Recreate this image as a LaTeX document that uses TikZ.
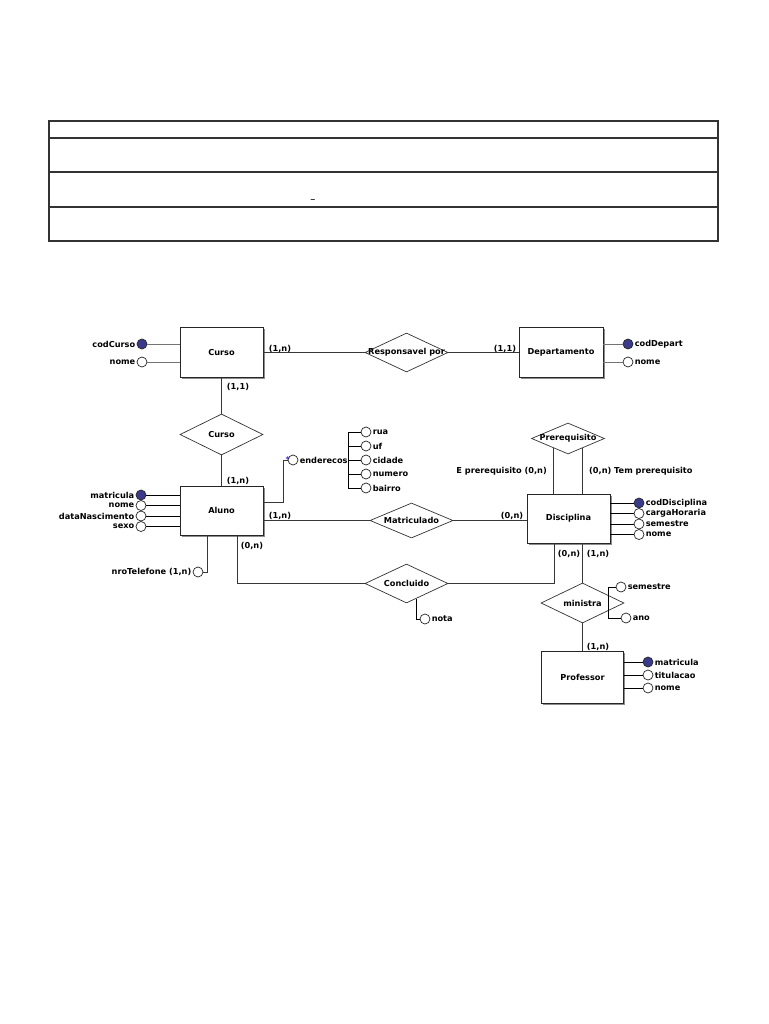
\documentclass[tikz,border=0pt]{standalone}
\usepackage{fontspec}
\setmainfont{DejaVu Sans}
\usetikzlibrary{shapes.geometric,shadows,calc}
\definecolor{pk}{RGB}{58,58,140}
\definecolor{ln}{RGB}{55,55,55}
\tikzset{
 every node/.style={font=\fontsize{8.2}{9}\selectfont\bfseries, inner sep=1pt},
 ent/.style={draw=black!85, line width=0.9pt, fill=white, minimum width=83pt, minimum height=50pt, inner sep=0pt,
   drop shadow={shadow xshift=1.6pt, shadow yshift=-1.6pt, fill=black!45, opacity=1}},
 rel/.style={draw=black!80, line width=0.7pt, diamond, fill=white, minimum width=83pt, minimum height=40pt, inner sep=0pt},
 att/.style={circle, draw=black!85, line width=0.7pt, fill=white, minimum size=10pt, inner sep=0pt},
 key/.style={att, fill=pk},
 rl/.style={draw=ln, line width=0.85pt},
 al/.style={draw=black!55, line width=1pt},
 ab/.style={draw=black, line width=1pt},
 lab/.style={inner sep=1.2pt},
 tbl/.style={draw=black!80, line width=1.1pt},
}
\begin{document}
\begin{tikzpicture}[x=1pt,y=-1pt]
\useasboundingbox[fill=white] (0,0) rectangle (768,1024);
% table
\draw[tbl] (49,121) rectangle (718,241);
\draw[tbl] (49,138) -- (718,138);
\draw[tbl] (49,172) -- (718,172);
\draw[tbl] (49,207) -- (718,207);
\node[inner sep=0pt] (dash) at (313,199) {\_};

% entities
\node[ent] (curso) at (221.5,352.5) {Curso};
\node[ent, minimum width=84pt] (depto) at (561,352.5) {Departamento};
\node[ent, minimum height=49pt] (aluno) at (221.5,510.5) {Aluno};
\node[ent, minimum height=49pt] (disc) at (568.5,518.5) {Disciplina};
\node[ent, minimum width=82pt, minimum height=52pt] (prof) at (582.5,677) {Professor};

% relationships
\node[rel, minimum height=39pt, label=center:{Responsavel por}] (resp) at (406.5,352.5) {};
\node[rel, minimum height=41pt, label=center:{Curso}] (crel) at (221.5,434.5) {};
\node[rel, minimum height=35pt, label=center:{Matriculado}] (matr) at (411.5,520.5) {};
\node[rel, minimum height=39pt, label=center:{Concluido}] (concl) at (406.5,583.5) {};
\node[rel, minimum width=73pt, minimum height=31pt, label=center:{Prerequisito}] (prereq) at (568,438.5) {};
\node[rel, minimum height=40pt, label=center:{ministra}] (mini) at (582.5,603) {};

% relationship connectors
\draw[rl] (curso.east) -- (resp.west);
\draw[rl] (resp.east) -- (depto.west);
\draw[rl] (curso.south) -- (crel.north);
\draw[rl] (crel.south) -- (aluno.north);
\draw[rl] (aluno.east |- matr.west) -- (matr.west);
\draw[rl] (matr.east) -- (matr.east -| disc.west);
\draw[rl] ($(aluno.south west)!0.69!(aluno.south east)$) |- (concl.west);
\draw[rl] (concl.east) -| ($(disc.south west)!0.33!(disc.south east)$);
\coordinate (pl) at ($(prereq.west)!0.616!(prereq.south)$);
\coordinate (pr) at ($(prereq.south)!0.384!(prereq.east)$);
\draw[rl] (pl) -- (pl |- disc.north);
\draw[rl] (pr) -- (pr |- disc.north);
\draw[rl] (mini.north) -- (mini.north |- disc.south);
\draw[rl] (mini.south) -- (prof.north);

% cardinalities
\node (k1) at (280,349) {(1,n)};
\node (k2) at (505,349) {(1,1)};
\node (k3) at (238,387) {(1,1)};
\node (k4) at (238,481) {(1,n)};
\node (k5) at (280,516) {(1,n)};
\node (k6) at (512,516) {(0,n)};
\node (k7) at (252,546) {(0,n)};
\node[anchor=east] (k8) at (548,471) {E prerequisito (0,n)};
\node[anchor=west] (k9) at (588,471) {(0,n) Tem prerequisito};
\node (k10) at (569,554) {(0,n)};
\node (k11) at (598,554) {(1,n)};
\node (k12) at (598,647) {(1,n)};

% Curso attributes
\node[key] (cc) at (142,344) {};
\node[att] (cn) at (142,362) {};
\node[lab, anchor=east] (ccL) at (cc.west) {codCurso};
\node[lab, anchor=east] (cnL) at (cn.west) {nome};
\draw[al] (cc.east) -- (cc -| curso.west);
\draw[al] (cn.east) -- (cn -| curso.west);

% Departamento attributes
\node[key] (dc) at (628,344) {};
\node[att] (dn) at (628,362) {};
\node[lab, anchor=west] (dcL) at (dc.east) {codDepart};
\node[lab, anchor=west] (dnL) at (dn.east) {nome};
\draw[al] (dc.west) -- (dc -| depto.east);
\draw[al] (dn.west) -- (dn -| depto.east);

% Aluno attributes
\node[key] (am) at (141,495) {};
\node[att] (an) at (141,505.5) {};
\node[att] (ad) at (141,516) {};
\node[att] (as) at (141,526.5) {};
\node[lab, anchor=east] (amL) at (am.west) {matricula};
\node[lab, anchor=east] (anL) at (an.west) {nome};
\node[lab, anchor=east] (adL) at (ad.west) {dataNascimento};
\node[lab, anchor=east] (asL) at (as.west) {sexo};
\foreach \a in {am,an,ad,as} \draw[ab] (\a.east) -- (\a -| aluno.west);

% nroTelefone
\node[att] (tel) at (198,572) {};
\node[lab, anchor=east] (telL) at (tel.west) {nroTelefone (1,n)};
\draw[rl] ($(aluno.south west)!0.337!(aluno.south east)$) |- (tel.east);

% enderecos
\node[att] (endc) at (293,460) {};
\node[lab, anchor=west] (endL) at (endc.east) {enderecos};
\node[text=blue, inner sep=0pt, font=\fontsize{8}{8}\selectfont] (star) at (287.5,460) {*};
\draw[rl] ($(aluno.north east)!0.33!(aluno.south east)$) -| ($(endc.west)+(-4,0)$) -- (endc.west);
\node[att] (rua) at (366,432) {};
\node[att] (uf) at (366,446) {};
\node[att] (cid) at (366,460) {};
\node[att] (num) at (366,474) {};
\node[att] (bai) at (366,488) {};
\node[lab, anchor=west] (ruaL) at (rua.east) {rua};
\node[lab, anchor=west] (ufL) at (uf.east) {uf};
\node[lab, anchor=west] (cidL) at (cid.east) {cidade};
\node[lab, anchor=west] (numL) at (num.east) {numero};
\node[lab, anchor=west] (baiL) at (bai.east) {bairro};
\draw[ab, line width=0.8pt] (rua.west) -- ++(-12,0) |- (bai.west);
\draw[ab, line width=0.8pt] (uf.west) -- ++(-12,0);
\draw[ab, line width=0.8pt] (num.west) -- ++(-12,0);
\draw[ab, line width=0.8pt] (endL.east) -- (cid.west);

% Disciplina attributes
\node[key] (d1) at (639,503) {};
\node[att] (d2) at (639,513.5) {};
\node[att] (d3) at (639,524) {};
\node[att] (d4) at (639,534.5) {};
\node[lab, anchor=west] (d1L) at (d1.east) {codDisciplina};
\node[lab, anchor=west] (d2L) at (d2.east) {cargaHoraria};
\node[lab, anchor=west] (d3L) at (d3.east) {semestre};
\node[lab, anchor=west] (d4L) at (d4.east) {nome};
\foreach \a in {d1,d2,d3,d4} \draw[ab] (\a.west) -- (\a -| disc.east);

% nota
\node[att] (nota) at (425,619) {};
\node[lab, anchor=west] (notaL) at (nota.east) {nota};
\draw[ab, line width=0.8pt] ($(concl.south)!0.229!(concl.east)$) |- (nota.west);

% ministra attributes
\node[att] (ms) at (621,587) {};
\node[att] (ma) at (626,618) {};
\node[lab, anchor=west] (msL) at (ms.east) {semestre};
\node[lab, anchor=west] (maL) at (ma.east) {ano};
\draw[ab, line width=0.8pt] (ms.west) -- ++(-7,0) |- (ma.west);

% Professor attributes
\node[key] (p1) at (648,662) {};
\node[att] (p2) at (648,675) {};
\node[att] (p3) at (648,688) {};
\node[lab, anchor=west] (p1L) at (p1.east) {matricula};
\node[lab, anchor=west] (p2L) at (p2.east) {titulacao};
\node[lab, anchor=west] (p3L) at (p3.east) {nome};
\foreach \a in {p1,p2,p3} \draw[ab] (\a.west) -- (\a -| prof.east);
\end{tikzpicture}
\end{document}
